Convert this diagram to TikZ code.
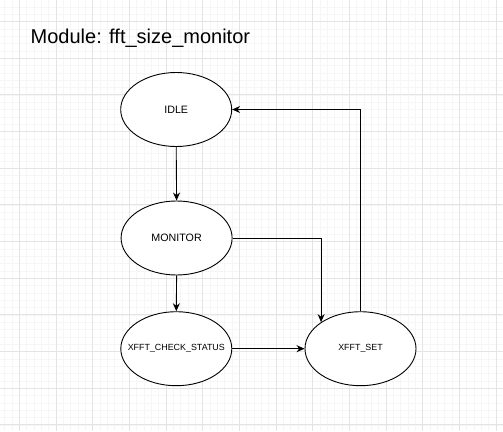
\documentclass[tikz,border=0pt]{standalone}
\usepackage{fontspec}
\setmainfont{Liberation Sans}
\usetikzlibrary{shapes.geometric,arrows.meta}
\tikzset{
  state/.style={draw=black, line width=0.9pt, ellipse, inner sep=0pt,
    minimum width=111pt, minimum height=74pt, fill=white},
  bigtxt/.style={font=\fontsize{10.7}{12}\selectfont},
  smalltxt/.style={font=\fontsize{8.9}{10}\selectfont},
  arr/.style={draw=black, line width=0.9pt, -{Stealth[length=8pt,width=7pt]}},
  minorgrid/.style={draw={rgb,255:red,246;green,246;blue,246}, line width=0.8pt},
  majorgrid/.style={draw={rgb,255:red,228;green,228;blue,228}, line width=0.9pt},
}
\begin{document}
\begin{tikzpicture}[x=1pt,y=-1pt]
\useasboundingbox (0,0) rectangle (503,431);
\fill[white] (0,0) rectangle (503,431);
\begin{scope}
\clip (0,0) rectangle (503,431);
\foreach \i in {-3,...,70} {
  \draw[minorgrid] ({19.4+\i*7.3333},0) -- ({19.4+\i*7.3333},431);
}
\foreach \i in {-3,...,60} {
  \draw[minorgrid] (0,{21.6+\i*7.3333}) -- (503,{21.6+\i*7.3333});
}
\foreach \i in {-1,...,14} {
  \draw[majorgrid] ({19.4+\i*36.667},0) -- ({19.4+\i*36.667},431);
}
\foreach \i in {-1,...,12} {
  \draw[majorgrid] (0,{21.6+\i*36.667}) -- (503,{21.6+\i*36.667});
}
\end{scope}

\node[anchor=base west, inner sep=0pt, font=\fontsize{20}{24}\selectfont] (title) at (30.5,43.3) {Module: fft\_size\_monitor};

\node[state, label={[bigtxt, inner sep=0pt]center:IDLE}] (idle) at (176.2,109.5) {};
\node[state, label={[bigtxt, inner sep=0pt]center:MONITOR}] (mon) at (176.6,238) {};
\node[state, label={[smalltxt, inner sep=0pt]center:XFFT\_CHECK\_STATUS}] (chk) at (176.3,348.7) {};
\node[state, label={[smalltxt, inner sep=0pt]center:XFFT\_SET}] (set) at (360.5,348.7) {};

\draw[arr] (idle.south) -- (mon.north);
\draw[arr] (mon.south) -- (chk.north);
\draw[arr] (chk.east) -- (set.west);
\draw[arr] (mon.east) -| (set.146.6);
\draw[arr] (set.north) |- (idle.east);
\end{tikzpicture}
\end{document}
